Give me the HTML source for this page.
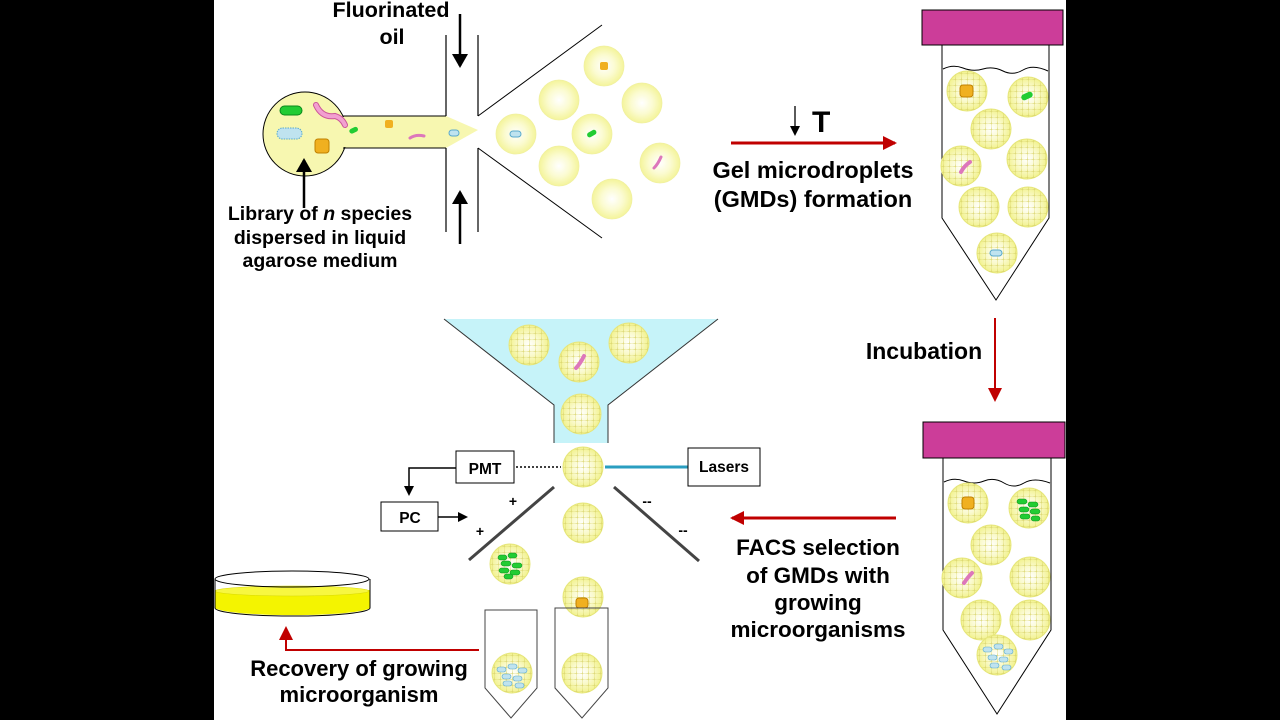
<!DOCTYPE html>
<html><head><meta charset="utf-8"><style>
html,body{margin:0;padding:0;background:#000;}
svg{display:block;}
text{font-family:"Liberation Sans",Arial,sans-serif;font-weight:bold;fill:#000;}
</style></head><body>
<svg width="1280" height="720" viewBox="0 0 1280 720" xmlns="http://www.w3.org/2000/svg">
<defs>
<radialGradient id="pl" cx="50%" cy="50%" r="50%">
<stop offset="0" stop-color="#ffffff"/><stop offset="0.55" stop-color="#fbfbd0"/><stop offset="1" stop-color="#f4f49a"/>
</radialGradient>
<radialGradient id="gl" cx="50%" cy="50%" r="50%">
<stop offset="0" stop-color="#ffffff"/><stop offset="0.5" stop-color="#fafad0"/><stop offset="1" stop-color="#f2f28e"/>
</radialGradient>
<pattern id="grid" width="6" height="6" patternUnits="userSpaceOnUse">
<path d="M0 0.5 Q3 -0.5 6 0.5 M0.5 0 Q-0.5 3 0.5 6" fill="none" stroke="#d9d46a" stroke-width="0.6"/>
</pattern>
<g id="gmd"><circle r="20" fill="url(#gl)" stroke="#e6e67a" stroke-width="1"/><circle r="20" fill="url(#grid)"/></g>
<g id="pd"><circle r="20" fill="url(#pl)" stroke="#f0f0a0" stroke-width="0.8"/></g>
<marker id="ab" markerWidth="10" markerHeight="10" refX="8" refY="5" orient="auto" markerUnits="userSpaceOnUse"><path d="M0 0 L10 5 L0 10 Z" fill="#000"/></marker>
<marker id="ar" markerWidth="14" markerHeight="14" refX="12" refY="7" orient="auto" markerUnits="userSpaceOnUse"><path d="M0 0 L14 7 L0 14 Z" fill="#c00000"/></marker>
<marker id="abig" markerWidth="14" markerHeight="16" refX="12" refY="8" orient="auto" markerUnits="userSpaceOnUse"><path d="M0 0 L14 8 L0 16 Z" fill="#000"/></marker>
</defs>
<rect x="214" y="0" width="852" height="720" fill="#fff"/>

<!-- microfluidic -->
<path d="M340 116 L446 116 L446 116 L478 130 L446 148 L340 148" fill="#f7f7b0" stroke="none"/>
<circle cx="305" cy="134" r="42" fill="#f7f7b0" stroke="#000" stroke-width="1"/>
<rect x="330" y="117" width="20" height="30" fill="#f7f7b0"/>
<path d="M343 116 L446 116 M343 148 L446 148" stroke="#000" stroke-width="1"/>
<path d="M446 35 L446 116 M446 148 L446 232 M478 35 L478 116 M478 148 L478 232" stroke="#000" stroke-width="1.2"/>
<path d="M478 116 L602 25 M478 148 L602 238" stroke="#000" stroke-width="1"/>
<line x1="460" y1="14" x2="460" y2="66" stroke="#000" stroke-width="2.5" marker-end="url(#abig)"/>
<line x1="460" y1="244" x2="460" y2="192" stroke="#000" stroke-width="2.5" marker-end="url(#abig)"/>
<line x1="304" y1="208" x2="304" y2="160" stroke="#000" stroke-width="2.5" marker-end="url(#abig)"/>
<rect x="280" y="106" width="22" height="9" rx="4.5" fill="#22cc33" stroke="#0a8a1a"/>
<path d="M316 105 Q322 118 335 116 Q342 118 345 125" fill="none" stroke="#cc5599" stroke-width="6" stroke-linecap="round"/>
<path d="M316 105 Q322 118 335 116 Q342 118 345 125" fill="none" stroke="#f2a0d0" stroke-width="4" stroke-linecap="round"/>
<rect x="277" y="128" width="25" height="11" rx="5.5" fill="#bfe3ef" stroke="#5aaacc" stroke-dasharray="1.5 1"/>
<rect x="315" y="139" width="14" height="14" rx="3" fill="#f0b020" stroke="#c08000"/>
<rect x="349" y="128" width="9" height="5" rx="2.5" fill="#22cc33" transform="rotate(-25 353 130)"/>
<rect x="385" y="120" width="8" height="8" rx="2" fill="#f0b020"/>
<path d="M410 138 Q416 134 424 136" fill="none" stroke="#dd77bb" stroke-width="3" stroke-linecap="round"/>
<rect x="449" y="130" width="10" height="6" rx="3" fill="#bfe3ef" stroke="#5aaacc"/>
<use href="#pd" x="604" y="66"/><use href="#pd" x="559" y="100"/><use href="#pd" x="642" y="103"/>
<use href="#pd" x="516" y="134"/><use href="#pd" x="592" y="134"/><use href="#pd" x="559" y="166"/>
<use href="#pd" x="660" y="163"/><use href="#pd" x="612" y="199"/>
<rect x="600" y="62" width="8" height="8" rx="2" fill="#f0b020"/>
<rect x="510" y="131" width="11" height="6" rx="3" fill="#bfe3ef" stroke="#5aaacc"/>
<rect x="587" y="131" width="10" height="5" rx="2.5" fill="#22cc33" transform="rotate(-30 592 134)"/>
<path d="M654 168 Q658 164 661 157" fill="none" stroke="#dd77bb" stroke-width="3" stroke-linecap="round"/>

<text x="391" y="17" font-size="21.5" text-anchor="middle">Fluorinated</text>
<text x="392" y="44" font-size="21.5" text-anchor="middle">oil</text>
<text x="320" y="220" font-size="19.5" text-anchor="middle">Library of <tspan font-style="italic">n</tspan> species</text>
<text x="320" y="244" font-size="19.5" text-anchor="middle">dispersed in liquid</text>
<text x="320" y="267" font-size="19.5" text-anchor="middle">agarose medium</text>

<line x1="731" y1="143" x2="895" y2="143" stroke="#c00000" stroke-width="3" marker-end="url(#ar)"/>
<line x1="795" y1="106" x2="795" y2="134" stroke="#000" stroke-width="1.3" marker-end="url(#ab)"/>
<text x="812" y="132" font-size="30">T</text>
<text x="813" y="178" font-size="23.5" text-anchor="middle">Gel microdroplets</text>
<text x="813" y="207" font-size="23.5" text-anchor="middle">(GMDs) formation</text>

<rect x="922" y="10" width="141" height="35" fill="#cc3d99" stroke="#000" stroke-width="1"/>
<path d="M942 45 L942 218 L996 300 L1049 218 L1049 45" fill="none" stroke="#000" stroke-width="1"/>
<path d="M943 69 Q953 64 963 68 T983 69 T1003 71 T1023 70 T1048 71" fill="none" stroke="#000" stroke-width="1"/>
<use href="#gmd" x="967" y="91"/><use href="#gmd" x="1028" y="97"/><use href="#gmd" x="991" y="129"/>
<use href="#gmd" x="961" y="166"/><use href="#gmd" x="1027" y="159"/><use href="#gmd" x="979" y="207"/>
<use href="#gmd" x="1028" y="207"/><use href="#gmd" x="997" y="253"/>
<rect x="960" y="85" width="13" height="12" rx="3" fill="#f0b020" stroke="#c08000"/>
<rect x="1021" y="93" width="12" height="6" rx="3" fill="#22cc33" transform="rotate(-25 1027 96)"/>
<path d="M961 172 Q964 166 970 162" fill="none" stroke="#dd77bb" stroke-width="4" stroke-linecap="round"/>
<rect x="990" y="250" width="12" height="6" rx="3" fill="#bfe3ef" stroke="#5aaacc"/>

<line x1="995" y1="318" x2="995" y2="400" stroke="#c00000" stroke-width="2" marker-end="url(#ar)"/>
<text x="924" y="359" font-size="23" text-anchor="middle">Incubation</text>

<rect x="923" y="422" width="142" height="36" fill="#cc3d99" stroke="#000" stroke-width="1"/>
<path d="M943 458 L943 630 L997 714 L1051 630 L1051 458" fill="none" stroke="#000" stroke-width="1"/>
<path d="M944 482 Q954 477 964 481 T984 481 T1004 483 T1024 483 T1050 483" fill="none" stroke="#000" stroke-width="1"/>
<use href="#gmd" x="968" y="503"/><use href="#gmd" x="1029" y="508"/><use href="#gmd" x="991" y="545"/>
<use href="#gmd" x="962" y="578"/><use href="#gmd" x="1030" y="577"/><use href="#gmd" x="981" y="620"/>
<use href="#gmd" x="1030" y="620"/><use href="#gmd" x="997" y="655"/>
<rect x="962" y="497" width="12" height="12" rx="3" fill="#f0b020" stroke="#c08000"/>
<g fill="#22cc33" stroke="#0a8a1a" stroke-width="0.5">
<rect x="1017" y="499" width="10" height="5" rx="2.5"/><rect x="1028" y="502" width="10" height="5" rx="2.5"/>
<rect x="1019" y="507" width="10" height="5" rx="2.5"/><rect x="1030" y="509" width="10" height="5" rx="2.5"/>
<rect x="1020" y="514" width="10" height="5" rx="2.5"/><rect x="1031" y="516" width="9" height="5" rx="2.5"/></g>
<path d="M964 583 Q968 577 972 573" fill="none" stroke="#dd77bb" stroke-width="4" stroke-linecap="round"/>
<g fill="#bfe3ef" stroke="#5aaacc" stroke-width="0.6">
<rect x="983" y="647" width="9" height="5" rx="2.5"/><rect x="994" y="644" width="9" height="5" rx="2.5"/>
<rect x="1004" y="649" width="9" height="5" rx="2.5"/><rect x="988" y="655" width="9" height="5" rx="2.5"/>
<rect x="999" y="657" width="9" height="5" rx="2.5"/><rect x="990" y="663" width="9" height="5" rx="2.5"/><rect x="1002" y="665" width="9" height="5" rx="2.5"/></g>

<line x1="896" y1="518" x2="732" y2="518" stroke="#c00000" stroke-width="3" marker-end="url(#ar)"/>
<text x="818" y="555" font-size="22.5" text-anchor="middle">FACS selection</text>
<text x="818" y="583" font-size="22.5" text-anchor="middle">of GMDs with</text>
<text x="818" y="610" font-size="22.5" text-anchor="middle">growing</text>
<text x="818" y="637" font-size="22.5" text-anchor="middle">microorganisms</text>

<path d="M444 319 L718 319 L608 405 L608 443 L554 443 L554 405 Z" fill="#c6f3f9"/>
<path d="M444 319 L554 405 L554 443 M718 319 L608 405 L608 443" fill="none" stroke="#333" stroke-width="1"/>
<use href="#gmd" x="529" y="345"/><use href="#gmd" x="579" y="362"/><use href="#gmd" x="629" y="343"/><use href="#gmd" x="581" y="414"/>
<path d="M576 368 Q580 364 584 356" fill="none" stroke="#dd77bb" stroke-width="4" stroke-linecap="round"/>

<use href="#gmd" x="583" y="467"/>
<line x1="516" y1="467" x2="561" y2="467" stroke="#000" stroke-width="1.5" stroke-dasharray="2 2"/>
<line x1="605" y1="467" x2="688" y2="467" stroke="#2a9ec0" stroke-width="3"/>
<rect x="456" y="451" width="58" height="32" fill="#fff" stroke="#000"/>
<text x="485" y="474" font-size="15.5" text-anchor="middle">PMT</text>
<rect x="688" y="448" width="72" height="38" fill="#fff" stroke="#000"/>
<text x="724" y="472" font-size="15.5" text-anchor="middle">Lasers</text>
<rect x="381" y="502" width="57" height="29" fill="#fff" stroke="#000"/>
<text x="410" y="523" font-size="15.5" text-anchor="middle">PC</text>
<path d="M456 468 L409 468 L409 494" fill="none" stroke="#000" stroke-width="1.5" marker-end="url(#ab)"/>
<line x1="438" y1="517" x2="466" y2="517" stroke="#000" stroke-width="1.5" marker-end="url(#ab)"/>
<line x1="554" y1="487" x2="469" y2="560" stroke="#444" stroke-width="3"/>
<line x1="614" y1="487" x2="699" y2="561" stroke="#444" stroke-width="3"/>
<text x="513" y="506" font-size="14" text-anchor="middle">+</text>
<text x="480" y="536" font-size="14" text-anchor="middle">+</text>
<text x="647" y="506" font-size="14" text-anchor="middle">--</text>
<text x="683" y="535" font-size="14" text-anchor="middle">--</text>
<use href="#gmd" x="583" y="523"/>
<use href="#gmd" x="510" y="564"/>
<g fill="#22cc33" stroke="#0a8a1a" stroke-width="0.5">
<rect x="498" y="555" width="9" height="5" rx="2.5"/><rect x="508" y="553" width="9" height="5" rx="2.5"/>
<rect x="501" y="561" width="10" height="5" rx="2.5"/><rect x="512" y="563" width="10" height="5" rx="2.5"/>
<rect x="499" y="568" width="10" height="5" rx="2.5"/><rect x="510" y="570" width="10" height="5" rx="2.5"/><rect x="504" y="574" width="9" height="5" rx="2.5"/></g>
<use href="#gmd" x="583" y="597"/>
<rect x="576" y="598" width="12" height="10" rx="3" fill="#f0b020" stroke="#c08000"/>

<path d="M485 610 L485 688 L511 718 L537 688 L537 610 Z" fill="none" stroke="#444" stroke-width="1"/>
<path d="M555 608 L555 688 L582 718 L608 688 L608 608 Z" fill="none" stroke="#444" stroke-width="1"/>
<use href="#gmd" x="512" y="673"/><use href="#gmd" x="582" y="673"/>
<g fill="#bfe3ef" stroke="#5aaacc" stroke-width="0.6">
<rect x="497" y="667" width="9" height="5" rx="2.5"/><rect x="508" y="664" width="9" height="5" rx="2.5"/>
<rect x="518" y="668" width="9" height="5" rx="2.5"/><rect x="502" y="674" width="9" height="5" rx="2.5"/>
<rect x="513" y="676" width="9" height="5" rx="2.5"/><rect x="503" y="681" width="9" height="5" rx="2.5"/><rect x="515" y="683" width="9" height="5" rx="2.5"/></g>

<path d="M215 590 L215 608 A78 8 0 0 0 370 608 L370 590 Z" fill="#f4f400"/>
<ellipse cx="292" cy="591" rx="77" ry="5" fill="#f7f740" stroke="#d8d800" stroke-width="0.5"/>
<path d="M215 579 L215 608 A77 8 0 0 0 370 608 L370 579" fill="none" stroke="#000" stroke-width="1"/>
<ellipse cx="292" cy="579" rx="77" ry="8" fill="none" stroke="#000" stroke-width="1"/>
<path d="M479 650 L286 650 L286 628" fill="none" stroke="#c00000" stroke-width="2" marker-end="url(#ar)"/>
<text x="359" y="676" font-size="22" text-anchor="middle">Recovery of growing</text>
<text x="359" y="702" font-size="22" text-anchor="middle">microorganism</text>
</svg>
</body></html>
